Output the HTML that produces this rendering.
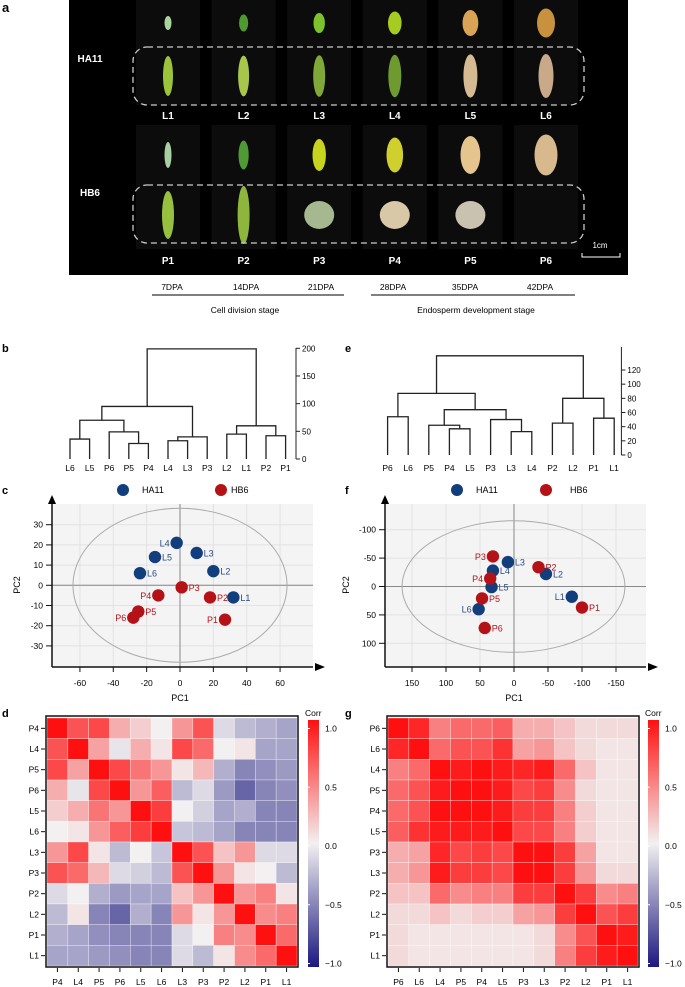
<!DOCTYPE html>
<html><head><meta charset="utf-8"><style>
html,body{margin:0;padding:0;background:#fff;}
svg{display:block;font-family:"Liberation Sans",Arial,sans-serif;}
</style></head><body>
<svg id="fig" width="685" height="987" viewBox="0 0 685 987" xmlns="http://www.w3.org/2000/svg">
<g id="panelA">
<text x="2" y="12" font-size="13" font-weight="bold">a</text>
<rect x="69" y="0" width="559" height="275" fill="#000"/>
<g id="tiles"></g>
<text x="90" y="62" font-size="10" font-weight="bold" fill="#fff" text-anchor="middle">HA11</text>
<text x="90" y="196" font-size="10" font-weight="bold" fill="#fff" text-anchor="middle">HB6</text>
<rect x="133" y="47" width="451" height="58" rx="14" fill="none" stroke="#ccc" stroke-width="1.3" stroke-dasharray="6,4"/>
<rect x="133" y="185" width="451" height="58" rx="14" fill="none" stroke="#ccc" stroke-width="1.3" stroke-dasharray="6,4"/>
<text x="600" y="248" font-size="8" fill="#fff" text-anchor="middle">1cm</text>
<path d="M582,253 V257 H620 V253" fill="none" stroke="#fff" stroke-width="1"/>
</g>
<g>
<text x="172" y="290" font-size="8.5" text-anchor="middle">7DPA</text>
<text x="246" y="290" font-size="8.5" text-anchor="middle">14DPA</text>
<text x="321" y="290" font-size="8.5" text-anchor="middle">21DPA</text>
<text x="393" y="290" font-size="8.5" text-anchor="middle">28DPA</text>
<text x="465" y="290" font-size="8.5" text-anchor="middle">35DPA</text>
<text x="540" y="290" font-size="8.5" text-anchor="middle">42DPA</text>
<line x1="152" y1="295" x2="344" y2="295" stroke="#000" stroke-width="1"/>
<line x1="371" y1="295" x2="575" y2="295" stroke="#000" stroke-width="1"/>
<text x="245" y="313" font-size="8.5" text-anchor="middle">Cell division stage</text>
<text x="476" y="313" font-size="8.5" text-anchor="middle">Endosperm development stage</text>
</g>
<text x="2" y="352" font-size="11" font-weight="bold">b</text>
<text x="345" y="352" font-size="11" font-weight="bold">e</text>
<text x="2" y="494" font-size="11" font-weight="bold">c</text>
<text x="345" y="494" font-size="11" font-weight="bold">f</text>
<text x="2" y="717" font-size="11" font-weight="bold">d</text>
<text x="345" y="717" font-size="11" font-weight="bold">g</text>
<g id="dynamic"></g>
</svg>
<script>
// ---------- Photo panel data ----------
const photoL = ["L1","L2","L3","L4","L5","L6"];
const photoP = ["P1","P2","P3","P4","P5","P6"];
const grainTopL = ["#a9d49a","#4e9a2e","#7dc22a","#a6cc22","#d9a456","#c8913e"];
const grainBotL = ["#9cc43a","#a8c64a","#7fa838","#6f9a30","#d6bb92","#caa98a"];
const grainTopP = ["#a7cfa2","#4f9a34","#c6d41e","#cfcf2e","#e6c48e","#d8b98e"];
const grainBotP = ["#98c040","#8fb63c","#a6b890","#d8c8a8","#c9c2b0",""];

// ---------- Dendrogram b data ----------
const dendBLeaves = ["L6","L5","P6","P5","P4","L4","L3","P3","L2","L1","P2","P1"];
const dendBMerges = [[0,1,36],[3,4,28],[2,13,49],[12,14,70],[5,6,33],[16,7,40],[15,17,95],[8,9,45],[10,11,42],[19,20,60],[18,21,199]];
const dendBTicks = [0,50,100,150,200];
// ---------- Dendrogram e data ----------
const dendELeaves = ["P6","L6","P5","P4","L5","P3","L3","L4","P2","L2","P1","L1"];
const dendEMerges = [[0,1,54],[3,4,37],[2,13,42],[6,7,33],[5,15,50],[14,16,64],[12,17,87],[8,9,45],[10,11,52],[19,20,80],[18,21,140]];
const dendETicks = [0,20,40,60,80,100,120];

// ---------- PCA c data ----------
const pcaCLabels = ["L1","L2","L3","L4","L5","L6","P1","P2","P3","P4","P5","P6"];
const pcaCPC1 = [32,20,10,-2,-15,-24,27,18,1,-13,-25,-28];
const pcaCPC2 = [-6,7,16,21,14,6,-17,-6,-1,-5,-13,-16];
const pcaCXTicks = [-60,-40,-20,0,20,40,60];
const pcaCYTicks = [-30,-20,-10,0,10,20,30];
// ---------- PCA f data ----------
const pcaFLabels = ["L1","L2","L3","L4","L5","L6","P1","P2","P3","P4","P5","P6"];
const pcaFPC1 = [-85,-47,9,31,33,52,-100,-36,31,35,47,43];
const pcaFPC2 = [18,-22,-43,-28,1,40,37,-34,-53,-14,21,73];
const pcaFXTicks = [150,100,50,0,-50,-100,-150];
const pcaFYTicks = [-100,-50,0,50,100];

// ---------- Heatmap d data ----------
const hmDLabels = ["P4","L4","P5","P6","L5","L6","L3","P3","P2","L2","P1","L1"];
const hmDValues = [
[1,.7,.75,.3,.15,0,.4,.7,-.1,-.25,-.3,-.35],
[.7,1,.35,-.05,.3,.05,.75,.6,0,.05,-.35,-.35],
[.75,.35,1,.75,.55,.4,.05,.25,-.3,-.5,-.45,-.4],
[.3,-.05,.75,1,.4,.65,-.25,-.1,-.4,-.65,-.5,-.45],
[.15,.3,.55,.4,1,.8,0,-.15,-.35,-.3,-.5,-.5],
[0,.05,.4,.65,.8,1,-.2,-.25,-.35,-.5,-.5,-.5],
[.4,.75,.05,-.25,0,-.2,1,.7,.2,.4,-.1,-.1],
[.7,.6,.25,-.1,-.15,-.25,.7,1,.4,.05,0,-.25],
[-.1,0,-.3,-.4,-.35,-.35,.2,.4,1,.4,.5,.05],
[-.25,.05,-.5,-.65,-.3,-.5,.4,.05,.4,1,.45,.5],
[-.3,-.35,-.45,-.5,-.5,-.5,-.1,0,.5,.45,1,.6],
[-.35,-.35,-.4,-.45,-.5,-.5,-.1,-.25,.05,.45,.6,1]];
// ---------- Heatmap g data ----------
const hmGLabels = ["P6","L6","L4","P5","P4","L5","P3","L3","P2","L2","P1","L1"];
const hmGValues = [
[1,.9,.5,.6,.6,.65,.3,.3,.2,.1,.1,.1],
[.9,1,.6,.7,.7,.85,.35,.4,.2,.1,.05,.05],
[.5,.6,1,.95,1,.95,.9,.95,.6,.2,.05,.05],
[.6,.7,.95,1,1,.95,.75,.8,.45,.1,.05,.05],
[.6,.7,1,1,1,.95,.8,.8,.5,.15,.05,.05],
[.65,.85,.95,.95,.95,1,.75,.75,.5,.15,.05,.05],
[.3,.35,.9,.75,.8,.75,1,1,.8,.35,.05,.05],
[.3,.4,.95,.8,.8,.75,1,1,.8,.4,.1,.1],
[.2,.2,.6,.45,.5,.5,.8,.8,1,.8,.45,.5],
[.1,.1,.2,.1,.15,.15,.35,.4,.8,1,.7,.8],
[.1,.05,.05,.05,.05,.05,.05,.1,.45,.7,1,.95],
[.1,.05,.05,.05,.05,.05,.05,.1,.5,.8,.95,1]];
const cbTicks = [1.0,0.5,0.0,-0.5,-1.0];

const NS = "http://www.w3.org/2000/svg";
const root = document.getElementById("dynamic");
function mk(tag, attrs, parent){ const e=document.createElementNS(NS,tag); for(const k in attrs) e.setAttribute(k,attrs[k]); (parent||root).appendChild(e); return e; }
function txt(x,y,s,size,anchor,fill,parent){ const t=mk("text",{x:x,y:y,"font-size":size,"text-anchor":anchor||"start",fill:fill||"#000"},parent); t.textContent=s; return t; }

// ---------- Photo panel ----------
const photoG = document.getElementById("tiles");
const colX0 = 168, colDX = 75.6;
function grain(cx, cy, rx, ry, col, parent){ if(!col) return; mk("ellipse",{cx:cx,cy:cy,rx:rx,ry:ry,fill:col},parent); }
for(let i=0;i<6;i++){
  const cx = colX0 + i*colDX;
  const t1=mk("rect",{x:cx-32,y:0,width:64,height:105,fill:"#0c0c0c"},photoG);
  
  
  const t2=mk("rect",{x:cx-32,y:125,width:64,height:124,fill:"#0c0c0c"},photoG);
  
  
  grain(cx,23,3.5+i*1.1,7+i*1.5,grainTopL[i],photoG);
  grain(cx,76,5+i*0.5,20+i*0.4,grainBotL[i],photoG);
  grain(cx,155,3.5+i*1.6,13+i*1.5,grainTopP[i],photoG);
  if(i<2) grain(cx,215,6,24+i*5,grainBotP[i],photoG);
  else grain(cx,215,15,14,grainBotP[i],photoG);
  const l=txt(cx,119,photoL[i],10,"middle","#fff",photoG); l.setAttribute("font-weight","bold");
  
  
  const p=txt(cx,264,photoP[i],10,"middle","#fff",photoG); p.setAttribute("font-weight","bold");
  
  
}

// ---------- Dendrograms ----------
function dendro(leaves, merges, ticks, leafX0, leafDX, axisX, y0, yPerUnit, axisTop, name){
  const g=mk("g",{});
  
  
  const yS=v=>y0 - v*yPerUnit;
  const nodes = leaves.map((l,i)=>({x:leafX0+i*leafDX,h:0}));
  merges.forEach(m=>{
    const a=nodes[m[0]], b=nodes[m[1]], h=m[2];
    const p=mk("path",{d:`M${a.x},${yS(a.h)} V${yS(h)} H${b.x} V${yS(b.h)}`,fill:"none",stroke:"#222","stroke-width":1.3},g);
    
    
    nodes.push({x:(a.x+b.x)/2,h:h});
  });
  leaves.forEach((l,i)=>{ const t=txt(leafX0+i*leafDX,471,l,8.5,"middle","#000",g);
    
     });
  const ax=mk("line",{x1:axisX,y1:y0,x2:axisX,y2:axisTop,stroke:"#222","stroke-width":1},g);
  
  
  ticks.forEach(v=>{ mk("line",{x1:axisX,y1:yS(v),x2:axisX+4,y2:yS(v),stroke:"#222"},g);
    const t=txt(axisX+6,yS(v)+3,String(v),8,"start","#000",g);
    
     });
}
dendro(dendBLeaves,dendBMerges,dendBTicks,70,19.6,296,459,(459-348.3)/200,348,"dendrogram-b");
dendro(dendELeaves,dendEMerges,dendETicks,387.6,20.6,621.4,455,(455-370)/120,347,"dendrogram-e");

// ---------- PCA ----------
function pca(opt){
  const g=mk("g",{});
  
  
  const xS=v=>opt.x0 + v*opt.xPer, yS=v=>opt.y0 - v*opt.yPer;
  const bg=mk("rect",{x:opt.L,y:504,width:opt.R-opt.L,height:163,fill:"#f4f4f4"},g);
  
  
  opt.xt.forEach(v=>{ mk("line",{x1:xS(v),y1:504,x2:xS(v),y2:667,stroke:"#e2e2e2","stroke-width":1},g);});
  opt.yt.forEach(v=>{ mk("line",{x1:opt.L,y1:yS(v),x2:opt.R,y2:yS(v),stroke:"#e2e2e2","stroke-width":1},g);});
  mk("line",{x1:xS(0),y1:504,x2:xS(0),y2:667,stroke:"#888","stroke-width":1},g);
  mk("line",{x1:opt.L,y1:yS(0),x2:opt.R,y2:yS(0),stroke:"#888","stroke-width":1},g);
  const el=mk("ellipse",{cx:opt.ecx,cy:opt.ecy,rx:opt.erx,ry:opt.ery,fill:"none",stroke:"#aaa","stroke-width":1},g);
  
  
  mk("path",{d:`M${opt.L},667 V504 M${opt.L},667 H${opt.R}`,fill:"none",stroke:"#111","stroke-width":1.5},g);
  mk("path",{d:`M${opt.L-4},504 L${opt.L},495 L${opt.L+4},504 Z`,fill:"#000"},g);
  mk("path",{d:`M${opt.R+2},663 L${opt.R+12},667 L${opt.R+2},671 Z`,fill:"#000"},g);
  opt.xt.forEach(v=>{ mk("line",{x1:xS(v),y1:667,x2:xS(v),y2:672,stroke:"#111"},g);
    const t=txt(xS(v),686,String(v),8.5,"middle","#000",g);
    
     });
  opt.yt.forEach(v=>{ mk("line",{x1:opt.L-6,y1:yS(v),x2:opt.L,y2:yS(v),stroke:"#111"},g);
    const t=txt(opt.L-9,yS(v)+3,String(v),8.5,"end","#000",g);
    
     });
  const xl=txt(opt.xlab,701,"PC1",9,"middle","#000",g);
  
  
  const yl=txt(0,0,"PC2",9,"middle","#000",g); yl.setAttribute("transform",`translate(${opt.ylab},585) rotate(-90)`);
  
  
  const lg=mk("g",{},g);
  
  
  mk("circle",{cx:opt.lg[0],cy:490,r:6,fill:"#123e7e"},lg); txt(opt.lg[1],493,"HA11",9,"start","#000",lg);
  mk("circle",{cx:opt.lg[2],cy:490,r:6,fill:"#b51218"},lg); txt(opt.lg[3],493,"HB6",9,"start","#000",lg);
  opt.labels.forEach((lab,i)=>{
    const isL=lab[0]==="L", col=isL?"#123e7e":"#b51218";
    const px=xS(opt.p1[i]), py=yS(opt.p2[i]);
    const c=mk("circle",{cx:px,cy:py,r:6.2,fill:col},g);
    
    
    const left = opt.leftLabels.indexOf(lab)>=0;
    const t=txt(left?px-7:px+7,py+3.5,lab,9,left?"end":"start",isL?"#2a4a86":"#b51218",g);
    
    
  });
}
pca({name:"pca-c",L:52,R:313,x0:180,xPer:16.68/10,y0:585.3,yPer:20.2/10,ecx:180,ecy:585.3,erx:107,ery:77,
  xt:pcaCXTicks,yt:pcaCYTicks,labels:pcaCLabels,p1:pcaCPC1,p2:pcaCPC2,xlab:180,ylab:20,lg:[123,142,221,231],
  leftLabels:["L4","P4","P6","P1"]});
pca({name:"pca-f",L:385,R:646,x0:514,xPer:-34/50,y0:586.5,yPer:-28.4/50,ecx:513.5,ecy:586.5,erx:111.4,ery:65.8,
  xt:pcaFXTicks,yt:pcaFYTicks,labels:pcaFLabels,p1:pcaFPC1,p2:pcaFPC2,xlab:514,ylab:349,lg:[457,476,546,570],
  leftLabels:["P3","P4","L1","L6"]});

// ---------- Heatmaps ----------
function corrColor(v){
  v=Math.max(-1,Math.min(1,v));
  const w=[242,240,240], r=[255,16,16], b=[28,24,128];
  const t=Math.abs(v), tgt=v>=0?r:b;
  const c=w.map((wv,i)=>Math.round(wv+(tgt[i]-wv)*t));
  return `rgb(${c[0]},${c[1]},${c[2]})`;
}
function heatmap(labels, vals, L, rowLabX, cbX, name){
  const g=mk("g",{});
  
  
  const top=718, cw=(250)/12, ch=(966-718)/12;
  labels.forEach((rl,r)=>{
    labels.forEach((cl,c)=>{
      const cell=mk("rect",{x:L+c*cw,y:top+r*ch,width:cw,height:ch,fill:corrColor(vals[r][c]),stroke:"#ffffff","stroke-opacity":0.5,"stroke-width":0.6},g);
      
      
    });
    mk("line",{x1:L-6,y1:top+(r+.5)*ch,x2:L-2,y2:top+(r+.5)*ch,stroke:"#111"},g);
    const t=txt(L-8,top+(r+.5)*ch+3,rl,8.5,"end","#000",g);
    
    
    mk("line",{x1:L+(r+.5)*cw,y1:968,x2:L+(r+.5)*cw,y2:972,stroke:"#111"},g);
    const t2=txt(L+(r+.5)*cw,985,rl,8.5,"middle","#000",g);
    
    
  });
  mk("rect",{x:L-1,y:top-2,width:252,height:251,fill:"none",stroke:"#111","stroke-width":1.5},g);
  const defsId = name+"-grad";
  const defs=mk("defs",{},g);
  const lgd=mk("linearGradient",{id:defsId,x1:0,y1:0,x2:0,y2:1},defs);
  [1,0.5,0,-0.5,-1].forEach((v,i)=>mk("stop",{offset:i/4,"stop-color":corrColor(v)},lgd));
  const cb=mk("rect",{x:cbX,y:720,width:11,height:247,fill:`url(#${defsId})`},g);
  
  
  const ct=txt(cbX-3,716,"Corr",8.5,"start","#000",g);
  
  
  cbTicks.forEach(v=>{ const y=846-v*117.5;
    mk("line",{x1:cbX,y1:y,x2:cbX+2,y2:y,stroke:"#fff"},g);
    const t=txt(cbX+17,y+3,(v<0?"\u2212":"")+Math.abs(v).toFixed(1),8.5,"start","#000",g);
    
     });
}
heatmap(hmDLabels,hmDValues,47,37,308,"heatmap-d");
heatmap(hmGLabels,hmGValues,388,378,648,"heatmap-g");
</script>
</body></html>
